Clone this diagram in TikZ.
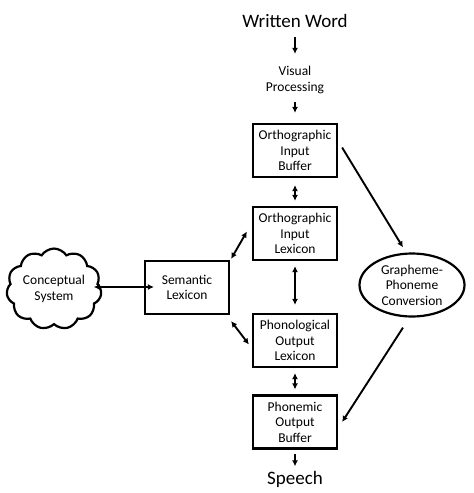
\documentclass[tikz,border=0pt]{standalone}
\usepackage{fontspec}
\setmainfont{Carlito}
\usetikzlibrary{arrows.meta}
\usetikzlibrary{calc}
\usetikzlibrary{shapes.geometric,shapes.symbols}
\begin{document}
\begin{tikzpicture}[x=1pt, y=-1pt, >={Latex[length=6pt,width=6pt]},
	stagebox/.style={draw, line width=2.2pt, minimum width=84pt, minimum height=53pt, align=center, font=\fontsize{13.5}{15.5}\selectfont, inner sep=1pt},
	plaintext/.style={align=center, font=\fontsize{13.5}{15.5}\selectfont},
	bigtext/.style={font=\fontsize{19}{22}\selectfont},
	link/.style={line width=1.9pt}]
	\useasboundingbox (0,0) rectangle (474,493);
	\node[bigtext] (word) at (295, 21) {Written Word};
	\node[plaintext] (visual) at (295, 80) {Visual\\Processing};
	\node[stagebox] (oib) at (295, 150.5) {Orthographic\\Input\\Buffer};
	\node[stagebox] (oil) at (295, 233.5) {Orthographic\\Input\\Lexicon};
	\node[stagebox] (pol) at (295, 340.5) {Phonological\\Output\\Lexicon};
	\node[stagebox] (pob) at (295, 422) {Phonemic\\Output\\Buffer};
	\node[bigtext] (speech) at (295, 479) {Speech};
	\node[stagebox] (sem) at (187, 287.5) {Semantic\\Lexicon};
	\node[draw, cloud, cloud puffs=11, cloud puff arc=115, aspect=1.25, line width=2.2pt, minimum width=95pt, minimum height=77pt, plaintext, inner sep=0pt] (concept) at (54, 289) {Conceptual\\System};
	\node[draw, ellipse, line width=2.2pt, minimum width=105pt, minimum height=63pt, plaintext, inner sep=0pt] (gpc) at (412, 285) {Grapheme-\\Phoneme\\Conversion};
	% arrows down the main route
	\draw[link, ->] ($(word.south)+(0,6)$) -- ($(visual.north)+(0,-9)$);
	\draw[link, ->] ($(visual.south)+(0,5)$) -- ($(oib.north)+(0,-10)$);
	\draw[link, <->] ($(oib.south)+(0,7)$) -- ($(oil.north)+(0,-5)$);
	\draw[link, <->] ($(oil.south)+(0,5)$) -- ($(pol.north)+(0,-8)$);
	\draw[link, <->] ($(pol.south)+(0,5)$) -- ($(pob.north)+(0,-5)$);
	\draw[link, ->] ($(pob.south)+(0,4)$) -- ($(speech.north)+(0,-1)$);
	% links to and from the lexicon
	\draw[link, <->] ($(concept.east)+(-8,-2)$) -- ($(sem.west)+(10,-0.5)$);
	\draw[link, <->] ($(sem.north east)+(1,-1)$) -- ($(oil.west)+(-5,-2)$);
	\draw[link, <->] ($(sem.south east)+(1,6)$) -- ($(pol.west)+(-3,4)$);
	% the sublexical route
	\draw[link, ->] ($(oib.east)+(4,-3)$) -- ($(gpc.north)+(-9,-5)$);
	\draw[link, ->] ($(gpc.south)+(-9,10)$) -- ($(pob.east)+(4,0)$);
\end{tikzpicture}
\end{document}
